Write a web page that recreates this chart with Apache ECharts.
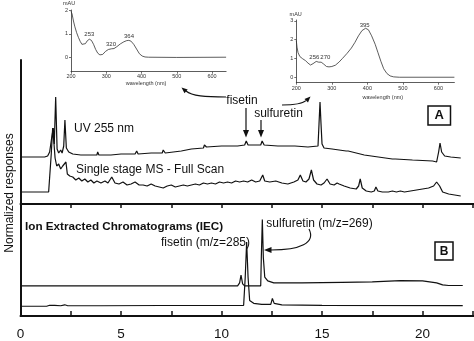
<!DOCTYPE html>
<html><head><meta charset="utf-8">
<script src="https://cdn.jsdelivr.net/npm/echarts@6/dist/echarts.min.js"></script>
<style>html,body{margin:0;padding:0;background:#fff}#c{width:474px;height:341px}</style>
</head><body><div id="c"></div>
<script>
// ---- data (time in min, normalized response) ----
const uvTrace = [[0,47],[1.2,47],[1.35,48],[1.45,52],[1.55,66],[1.63,76],[1.68,60],[1.75,107],[1.82,55],[1.9,51],[2.0,54],[2.07,51],[2.15,58],[2.21,84],[2.28,56],[2.4,52],[2.6,50],[3.0,49],[3.5,49],[3.8,49],[3.84,52],[3.9,49],[4.5,49],[5.0,50],[5.7,50],[5.78,53],[5.85,50],[6.5,51],[7.05,51],[7.1,54],[7.2,51],[8.0,53],[8.5,55],[9.1,56],[9.15,59],[9.25,57],[10.0,58],[10.8,58],[11.15,59],[11.23,63],[11.32,59],[11.6,59],[11.95,59],[12.02,63],[12.12,59],[12.8,58],[13.5,58],[13.56,60],[13.65,58],[14.3,57],[14.8,58],[14.85,80],[14.9,102],[14.95,80],[15.0,60],[15.1,56],[15.5,55],[16.2,53],[16.25,54],[16.3,53],[17.1,49],[17.8,47],[18.5,45],[18.57,46],[18.65,45],[19.5,44],[20.5,43],[20.7,42],[20.8,52],[20.87,61],[20.95,52],[21.1,48],[21.4,47],[21.9,46]];
const msTrace = [[0,12],[1.4,12],[1.47,14],[1.53,50],[1.6,76],[1.66,62],[1.72,46],[1.8,38],[1.9,40],[2.0,35],[2.1,38],[2.18,36],[2.26,42],[2.33,30],[2.45,28],[2.6,27],[2.75,24],[2.9,26],[3.05,23],[3.2,25],[3.35,22],[3.5,24],[3.65,21],[3.8,23],[4.0,21],[4.2,23],[4.35,21],[4.54,27],[4.7,21],[4.9,20],[5.1,22],[5.3,19],[5.5,20],[5.7,22],[5.9,19],[6.1,19],[6.3,18],[6.5,20],[6.7,18],[6.9,17],[7.1,16],[7.3,18],[7.5,19],[7.7,17],[7.9,18],[8.1,19],[8.3,18],[8.5,19],[8.7,20],[8.9,19],[9.1,21],[9.3,20],[9.5,21],[9.7,20],[9.9,22],[10.1,21],[10.3,22],[10.5,21],[10.7,23],[10.9,22],[11.1,23],[11.3,22],[11.5,24],[11.7,22],[11.9,23],[12.05,29],[12.15,23],[12.4,22],[12.7,23],[13.0,21],[13.3,20],[13.6,22],[13.8,24],[13.92,29],[14.05,23],[14.2,22],[14.35,25],[14.47,34],[14.58,24],[14.75,20],[14.95,19],[15.1,21],[15.25,25],[15.4,20],[15.6,19],[15.75,21],[15.85,20],[16.1,18],[16.4,16],[16.7,15],[16.82,18],[16.9,25],[17.0,16],[17.2,13],[17.45,12],[17.6,13],[17.68,17],[17.78,13],[18.0,12],[18.3,12],[18.5,13],[18.7,12],[18.9,13],[19.1,12],[19.4,13],[19.7,14],[20.0,15],[20.3,16],[20.55,18],[20.7,22],[20.85,18],[21.0,12],[21.3,10],[21.6,9],[21.9,8]];
const iecSulfuretin = [[0,31],[10.8,31],[10.9,34],[10.97,42],[11.05,33],[11.15,31],[11.95,31],[11.98,60],[12.03,99],[12.08,60],[12.15,40],[12.3,36],[12.6,34],[14,34],[16,34.5],[17.5,35],[18.9,36.3],[20.0,36],[20.7,34],[21.0,32],[21.3,31.3],[22.0,31.3]];
const iecFisetin = [[0,10],[1.3,10],[1.45,11],[1.7,11],[2.0,10.5],[2.2,11.5],[2.35,10.5],[4,10.5],[7,10.8],[11.1,11],[11.18,40],[11.25,76],[11.32,40],[11.4,16],[11.6,13],[12.0,12],[12.45,12],[12.53,18],[12.62,13],[13,11.5],[15,11],[22,10.7]];
// UV spectra (wavelength nm, mAU)
const fisetinSpectrum = [[200,1.96],[203,1.85],[207,1.55],[211,1.3],[216,1.05],[221,0.85],[226,0.68],[231,0.55],[236,0.5],[241,0.58],[246,0.7],[252,0.77],[258,0.72],[264,0.55],[270,0.33],[276,0.17],[282,0.1],[290,0.12],[298,0.25],[306,0.33],[315,0.36],[322,0.37],[330,0.45],[340,0.57],[350,0.66],[358,0.71],[364,0.72],[370,0.69],[378,0.55],[386,0.35],[394,0.15],[402,0.05],[410,0.01],[420,0],[500,-0.01],[640,0]];
const sulfuretinSpectrum = [[200,1.95],[202,1.6],[205,1.3],[210,1.1],[218,0.98],[226,0.88],[233,0.75],[240,0.65],[247,0.72],[256,0.84],[263,0.8],[270,0.8],[277,0.7],[285,0.57],[292,0.55],[300,0.57],[310,0.64],[320,0.8],[330,1.0],[343,1.27],[355,1.55],[365,1.85],[375,2.2],[385,2.48],[395,2.6],[403,2.52],[412,2.2],[422,1.75],[430,1.3],[438,0.85],[446,0.45],[455,0.2],[464,0.07],[474,0.02],[490,0],[645,0]];
const timeTicks = [0,2.5,5,7.5,10,12.5,15,17.5,20,22.5];
const timeLabels = [0,5,10,15,20];
const nmTicks = [200,300,400,500,600];

const chart = echarts.init(document.getElementById('c'), null, {renderer:'canvas'});
const ink = '#111';
const F = '"Liberation Sans", Arial, sans-serif';
function mainX(gi, bottom){
  return {gridIndex:gi, type:'value', min:0, max:22.56,
    axisLine:{show:true, onZero:false, lineStyle:{color:ink,width:2}},
    axisTick:{show:true, inside:bottom, length:bottom?5:4, customValues:timeTicks, lineStyle:{color:ink,width:1.5}},
    axisLabel:{show:bottom, customValues:timeLabels, fontSize:13.5, color:ink, fontFamily:F, margin:11},
    splitLine:{show:false}};
}
function mainY(gi, max){
  return {gridIndex:gi, type:'value', min:0, max:max,
    axisLine:{show:true, lineStyle:{color:ink,width:2}}, axisTick:{show:false}, axisLabel:{show:false}, splitLine:{show:false}};
}
function insetX(gi, max, margin){
  return {gridIndex:gi, type:'value', min:200, max:max,
    axisLine:{show:true, onZero:false, lineStyle:{color:'#333',width:0.8}},
    axisTick:{show:true, length:2, customValues:nmTicks, lineStyle:{color:'#333',width:0.7}},
    axisLabel:{show:true, customValues:nmTicks, fontSize:5.5, color:'#333', fontFamily:F, margin:margin},
    splitLine:{show:false}};
}
function insetY(gi, min, max, vals){
  return {gridIndex:gi, type:'value', min:min, max:max,
    axisLine:{show:true, onZero:false, lineStyle:{color:'#333',width:0.8}},
    axisTick:{show:true, length:2, customValues:vals, lineStyle:{color:'#333',width:0.7}},
    axisLabel:{show:true, customValues:vals, fontSize:5.5, color:'#333', fontFamily:F, margin:3},
    splitLine:{show:false}};
}
function ser(xi, data, w, c){
  return {type:'line', xAxisIndex:xi, yAxisIndex:xi, data:data, showSymbol:false, symbol:'none', smooth:false,
    lineStyle:{color:c||ink, width:w||1.2}, animation:false, silent:true};
}
function txt(t, x, y, size, opts){
  opts = opts||{};
  return {type:'text', x:x, y:y, rotation:opts.rot||0, silent:true, z:100,
    style:{text:t, x:0, y:0, font:(opts.bold?'bold ':'')+size+'px '+F, fill:opts.fill||ink,
      textAlign:opts.align||'center', textVerticalAlign:'middle', align:opts.align||'center', verticalAlign:'middle'}};
}
function ln(x1,y1,x2,y2,w){ return {type:'line', silent:true, z:100, shape:{x1,y1,x2,y2}, style:{stroke:ink, lineWidth:w||1.2}}; }
function tri(pts){ return {type:'polygon', silent:true, z:100, shape:{points:pts}, style:{fill:ink}}; }
function bez(x1,y1,cx1,cy1,cx2,cy2,x2,y2){ return {type:'bezierCurve', silent:true, z:100, shape:{x1,y1,cpx1:cx1,cpy1:cy1,cpx2:cx2,cpy2:cy2,x2,y2}, style:{stroke:ink, lineWidth:1.1, fill:null}}; }

const option = {
  backgroundColor:'#fff',
  animation:false,
  grid:[
    {left:20.5, right:0, top:60, height:144},
    {left:20.5, right:0, top:204, height:115},
    {left:71, top:10, width:155.1, height:61.7},
    {left:296.3, top:20, width:158.1, height:62.7}
  ],
  xAxis:[mainX(0,false), mainX(1,true), insetX(2,640,2), insetX(3,645,3)],
  yAxis:[mainY(0,144), mainY(1,115), insetY(2,-0.62,2.02,[0,1,2]), insetY(3,-0.29,3.04,[0,1,2,3])],
  series:[
    ser(0, uvTrace), ser(0, msTrace),
    ser(1, iecSulfuretin), ser(1, iecFisetin),
    ser(2, fisetinSpectrum, 0.8, '#333'), ser(3, sulfuretinSpectrum, 0.8, '#333')
  ],
  graphic:[
    txt('Normalized responses', 10, 193, 12, {rot:Math.PI/2}),
    txt('UV 255 nm', 74, 128.3, 12, {align:'left'}),
    txt('Single stage MS - Full Scan', 76, 169.3, 12, {align:'left'}),
    txt('fisetin', 242, 100.7, 12),
    txt('sulfuretin', 278.5, 114, 12),
    ln(246,108,246,131), tri([[243,130],[249,130],[246,137.5]]),
    ln(261,120,261,131), tri([[258,130],[264,130],[261,137.5]]),
    bez(226,97,205,97,192,96,186,91), tri([[181.5,87.5],[187.7,89.4],[184.5,93.2]]),
    bez(282,105,295,105,302,104,306,100.7), tri([[310.5,96.5],[308,102.5],[304.5,99]]),
    {type:'rect', silent:true, z:100, shape:{x:428,y:106,width:22.5,height:19}, style:{stroke:ink, lineWidth:1.5, fill:'#fff'}},
    txt('A', 439.2, 115.8, 13, {bold:true}),
    txt('Ion Extracted Chromatograms (IEC)', 25, 226.7, 11.7, {bold:true, align:'left'}),
    txt('fisetin (m/z=285)', 161, 242.3, 12, {align:'left'}),
    txt('sulfuretin (m/z=269)', 266.3, 223.3, 12, {align:'left'}),
    bez(309,229,316,243,300,250,271,250), tri([[264,250],[271.5,247],[271.5,253]]),
    {type:'rect', silent:true, z:100, shape:{x:435,y:242,width:18,height:18}, style:{stroke:ink, lineWidth:1.5, fill:'#fff'}},
    txt('B', 444, 251.2, 12, {bold:true}),
    // inset annotations
    txt('mAU', 69, 3.8, 5.5, {fill:'#333'}),
    txt('253', 89.3, 34.3, 6, {fill:'#333'}),
    txt('320', 111, 44.3, 6, {fill:'#333'}),
    txt('364', 129, 36, 6, {fill:'#333'}),
    txt('wavelength (nm)', 146, 83.5, 5.5, {fill:'#333'}),
    txt('mAU', 295.7, 14.7, 5.5, {fill:'#333'}),
    txt('395', 364.7, 25, 6, {fill:'#333'}),
    txt('256', 314.3, 57, 6, {fill:'#333'}),
    txt('270', 325.3, 57, 6, {fill:'#333'}),
    txt('wavelength (nm)', 382.8, 97.7, 5.5, {fill:'#333'})
  ]
};
chart.setOption(option);
</script></body></html>
